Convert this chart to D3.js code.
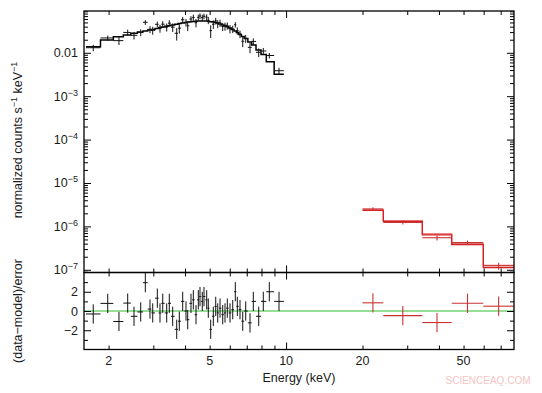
<!DOCTYPE html>
<html><head><meta charset="utf-8">
<script src="https://cdn.jsdelivr.net/npm/d3@7"></script>
<style>body{margin:0;background:#fff}svg{display:block}text{font-family:"Liberation Sans",Arial,sans-serif;fill:#1a1a1a}</style>
</head><body><svg id="c" width="542" height="393"></svg>
<script>
// ---- data ----
const blackEnergy=[1.740,1.984,2.197,2.378,2.518,2.676,2.790,2.911,2.984,3.111,3.187,3.267,3.387,3.468,3.576,3.709,3.797,3.916,4.035,4.098,4.222,4.312,4.418,4.512,4.581,4.677,4.750,4.868,4.939,5.048,5.169,5.283,5.380,5.493,5.629,5.747,5.869,6.014,6.164,6.310,6.426,6.585,6.749,6.934,7.210,7.429,7.802,8.134,8.588,9.378];
const blackModel=[0.01376,0.01964,0.02341,0.02564,0.02805,0.03006,0.0317,0.0334,0.0343,0.0362,0.0382,0.0393,0.0407,0.0418,0.0437,0.0455,0.0470,0.0485,0.0501,0.0509,0.0520,0.0529,0.0533,0.0537,0.0540,0.0540,0.0540,0.0537,0.0531,0.0522,0.0511,0.0498,0.0485,0.0460,0.0437,0.0425,0.0396,0.0372,0.0343,0.0317,0.0293,0.0263,0.0237,0.0213,0.0177,0.0151,0.01154,0.00908,0.00619,0.00322];
const blackResid=[-0.31,0.79,-1.09,0.82,-0.55,-0.1,2.94,0.2,-0.2,1.33,-0.2,0.8,-0.2,0.8,-0.55,-1.9,-1.06,1.0,0,-0.9,0.8,1.16,-0.38,1.16,1.5,1.0,1.5,1.16,0.3,-1.9,-0.55,0.48,-0.2,0.3,-0.38,-0.2,0.3,-0.2,0.14,2.0,0.48,0.14,-1.06,0,-1.23,1.0,-0.55,1.0,2.0,1.0];
const blackErrFrac=[0.16,0.15,0.17,0.18,0.18,0.18,0.2,0.19,0.2,0.19,0.2,0.2,0.2,0.19,0.2,0.2,0.2,0.19,0.2,0.2,0.19,0.2,0.2,0.19,0.2,0.2,0.19,0.2,0.2,0.2,0.2,0.19,0.2,0.2,0.2,0.2,0.2,0.21,0.2,0.2,0.21,0.2,0.21,0.21,0.2,0.21,0.2,0.21,0.2,0.2];
const redEdges=[20.0,24.15,34.4,44.9,59.8,79.0];
const redModelA=[2.33e-6,1.30e-6,6.4e-7,3.82e-7,1.12e-7];
const redModelB=[2.42e-6,1.35e-6,6.7e-7,3.98e-7,1.27e-7];
const redResid=[0.85,-0.48,-1.2,0.8,0.5];
const redErrFrac=[0.1,0.1,0.12,0.13,0.2];
const xLabelVals=[2,5,10,20,50];
const yTopLabelVals=[0.01,1e-3,1e-4,1e-5,1e-6,1e-7];
const yTopLabelExp=[null,-3,-4,-5,-6,-7];
const yResLabelVals=[2,0,-2];

// ---- layout ----
const L=84,R=514,T=11,M=272.5,B=349.5;
const svg=d3.select('#c');
const x=d3.scaleLog().domain([1.6,79]).range([L,R]);
const yTop=d3.scaleLog().domain([8.66e-8,0.0918]).range([M,T]);
const yRes=d3.scaleLinear().domain([-4,4]).range([B,M]);

function geoEdges(c){
  const n=c.length, lo=[], hi=[];
  for(let i=0;i<n;i++){
    lo.push(i>0?Math.sqrt(c[i-1]*c[i]):Math.max(x.domain()[0],c[0]*c[0]/Math.sqrt(c[0]*c[1])));
    hi.push(i<n-1?Math.sqrt(c[i]*c[i+1]):c[n-1]*c[n-1]/Math.sqrt(c[n-2]*c[n-1]));
  }
  return {lo,hi};
}
const be=geoEdges(blackEnergy);
const black=blackEnergy.map((e,i)=>{
  const err=blackModel[i]*blackErrFrac[i];
  return {e,lo:be.lo[i],hi:be.hi[i],m:blackModel[i],d:blackModel[i]+blackResid[i]*err,err,r:blackResid[i]};
});
const red=redModelA.map((m,i)=>{
  const lo=redEdges[i],hi=redEdges[i+1],err=m*redErrFrac[i];
  return {e:Math.sqrt(lo*hi),lo,hi,m,m2:redModelB[i],d:m+redResid[i]*err,err,r:redResid[i]};
});

// ---- residual zero line ----
svg.append('line').attr('x1',L).attr('x2',R).attr('y1',yRes(0)).attr('y2',yRes(0))
  .attr('stroke','#74d474').attr('stroke-width',1.3);

// ---- model step lines ----
function stepPath(arr,key,ys){
  const pts=arr.map(d=>[d.lo,d[key]]);
  pts.push([arr[arr.length-1].hi,arr[arr.length-1][key]]);
  return d3.line().x(p=>x(p[0])).y(p=>ys(p[1])).curve(d3.curveStepAfter)(pts);
}
svg.append('path').attr('d',stepPath(red,'m2',yTop)).attr('fill','none').attr('stroke','#e46060').attr('stroke-width',1.2);
svg.append('path').attr('d',stepPath(red,'m',yTop)).attr('fill','none').attr('stroke','#d42020').attr('stroke-width',1.3);
svg.append('path').attr('d',stepPath(black,'m',yTop)).attr('fill','none').attr('stroke','#000').attr('stroke-width',1.5);

// ---- data crosses ----
function crosses(arr,color,sw){
  const g=svg.append('g').attr('stroke',color).attr('stroke-width',sw);
  g.selectAll('.h').data(arr).join('line').attr('x1',d=>x(d.lo)).attr('x2',d=>x(d.hi)).attr('y1',d=>yTop(d.d)).attr('y2',d=>yTop(d.d));
  g.selectAll('.v').data(arr).join('line').attr('x1',d=>x(d.e)).attr('x2',d=>x(d.e)).attr('y1',d=>yTop(d.d+d.err)).attr('y2',d=>yTop(Math.max(d.d-d.err,1e-9)));
  const g2=svg.append('g').attr('stroke',color).attr('stroke-width',sw);
  g2.selectAll('.h').data(arr).join('line').attr('x1',d=>x(d.lo)).attr('x2',d=>x(d.hi)).attr('y1',d=>yRes(d.r)).attr('y2',d=>yRes(d.r));
  g2.selectAll('.v').data(arr).join('line').attr('x1',d=>x(d.e)).attr('x2',d=>x(d.e)).attr('y1',d=>yRes(d.r+1)).attr('y2',d=>yRes(d.r-1));
}
crosses(black,'#111',1);
crosses(red,'#c83232',1.1);

// ---- frames ----
svg.append('rect').attr('x',L).attr('y',T).attr('width',R-L).attr('height',M-T).attr('fill','none').attr('stroke','#000').attr('stroke-width',1.3);
svg.append('rect').attr('x',L).attr('y',M).attr('width',R-L).attr('height',B-M).attr('fill','none').attr('stroke','#000').attr('stroke-width',1.3);

// ---- ticks ----
function logTicks(dom){
  const maj=[],min=[];
  for(let p=Math.floor(Math.log10(dom[0]));p<=Math.ceil(Math.log10(dom[1]));p++){
    for(let k=1;k<=9;k++){const v=k*Math.pow(10,p); if(v>=dom[0]*0.9999&&v<=dom[1]*1.0001)(k===1?maj:min).push(v);}
  }
  return {maj,min};
}
function ticks(gen,scale,vals,size,tx,ty){
  svg.append('g').attr('transform',`translate(${tx},${ty})`)
    .call(gen(scale).tickValues(vals).tickSize(size).tickFormat(()=>''))
    .call(g=>{g.select('.domain').remove();g.selectAll('line').attr('stroke','#000').attr('stroke-width',1);});
}
const xt=logTicks(x.domain()), yt=logTicks(yTop.domain());
const MJ=7, MN=4;
[[d3.axisBottom,T],[d3.axisTop,M],[d3.axisBottom,M],[d3.axisTop,B]].forEach(([g,y])=>{
  ticks(g,x,xt.maj,MJ,0,y); ticks(g,x,xt.min,MN,0,y);
});
ticks(d3.axisRight,yTop,yt.maj,MJ,L,0); ticks(d3.axisRight,yTop,yt.min,MN,L,0);
ticks(d3.axisLeft,yTop,yt.maj,MJ,R,0); ticks(d3.axisLeft,yTop,yt.min,MN,R,0);
const rMaj=[-2,0,2], rMin=[-3,-1,1,3];
ticks(d3.axisRight,yRes,rMaj,MJ,L,0); ticks(d3.axisRight,yRes,rMin,MN,L,0);
ticks(d3.axisLeft,yRes,rMaj,MJ,R,0); ticks(d3.axisLeft,yRes,rMin,MN,R,0);

// ---- labels ----
const FS=12.5;
svg.append('g').selectAll('text').data(xLabelVals).join('text')
  .attr('x',d=>x(d)).attr('y',365).attr('text-anchor','middle').attr('font-size',FS).text(d=>d);
svg.append('text').attr('x',(L+R)/2).attr('y',381.5).attr('text-anchor','middle').attr('font-size',FS).text('Energy (keV)');

yTopLabelVals.forEach((v,i)=>{
  const t=svg.append('text').attr('x',78).attr('y',yTop(v)).attr('dy','0.36em').attr('text-anchor','end').attr('font-size',FS);
  if(yTopLabelExp[i]===null){t.text('0.01');}
  else{t.append('tspan').text('10');t.append('tspan').attr('dy',-5).attr('font-size',9).text('\u2212'+(-yTopLabelExp[i]));}
});
svg.append('g').selectAll('text').data(yResLabelVals).join('text')
  .attr('x',78).attr('y',d=>yRes(d)).attr('dy','0.36em').attr('text-anchor','end').attr('font-size',FS)
  .text(d=>d<0?'\u2212'+(-d):d);

const yl=svg.append('text').attr('transform','translate(22,140) rotate(-90)').attr('text-anchor','middle').attr('font-size',FS);
yl.append('tspan').text('normalized counts s');
yl.append('tspan').attr('dy',-5).attr('font-size',9).text('\u22121');
yl.append('tspan').attr('dy',5).text(' keV');
yl.append('tspan').attr('dy',-5).attr('font-size',9).text('\u22121');
svg.append('text').attr('transform','translate(22,311) rotate(-90)').attr('text-anchor','middle').attr('font-size',FS).text('(data\u2212model)/error');

svg.append('text').attr('x',488).attr('y',384).attr('text-anchor','middle').attr('font-size',10).style('fill','#f2c4c4').text('SCIENCEAQ.COM');
</script></body></html>
